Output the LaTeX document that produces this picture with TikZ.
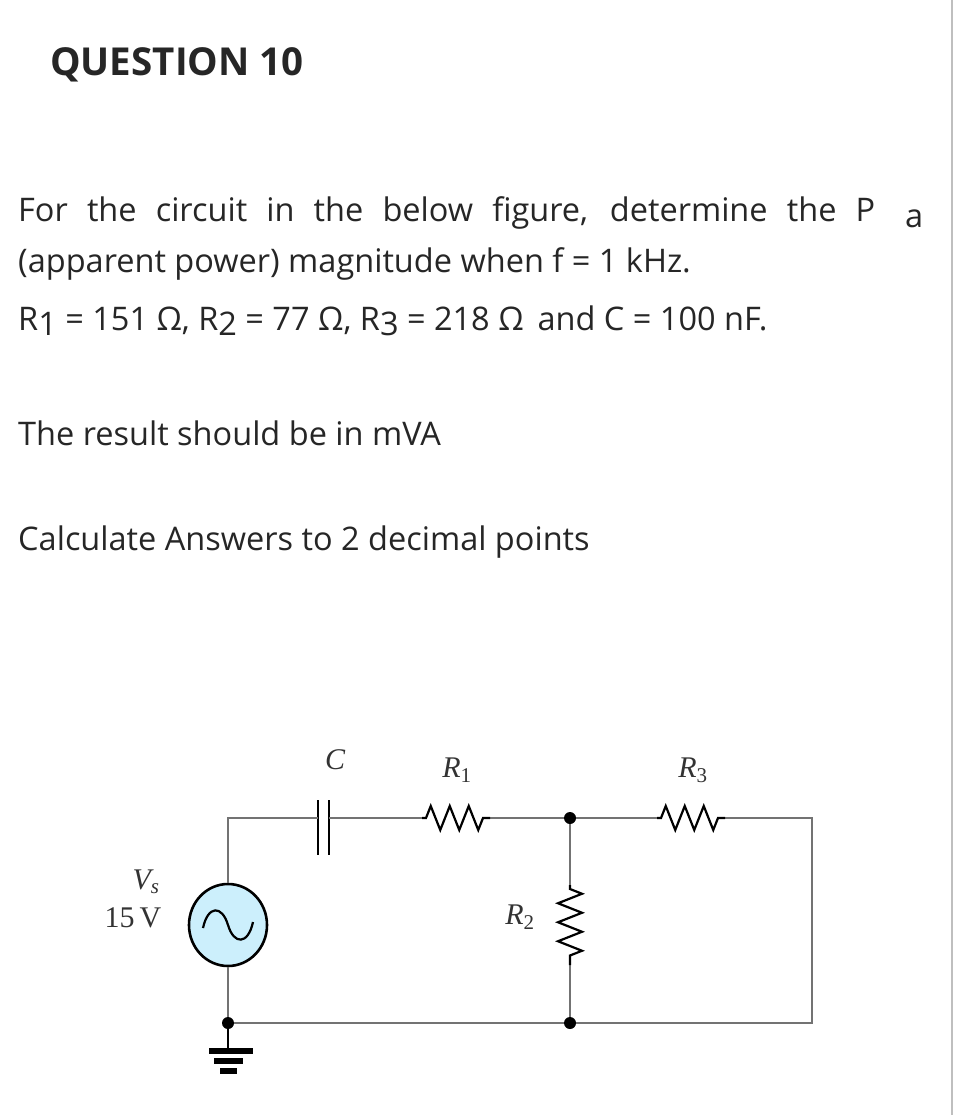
\documentclass[tikz,border=0pt]{standalone}
\usepackage{fontspec}
\setmainfont{Open Sans}
\newfontfamily\cirf{Liberation Serif}
\usetikzlibrary{decorations.pathmorphing,shapes.geometric}
\begin{document}
\begin{tikzpicture}[x=1pt,y=-1pt,
  txt/.style={anchor=base west,inner sep=0pt,font=\fontsize{32.5}{38}\selectfont,text=black!85},
  wire/.style={draw=black!55,line width=1.6pt},
  res/.style={draw=black,line width=2.2pt,decorate,decoration={zigzag,segment length=19pt,amplitude=12pt,pre length=4pt,post length=4pt}},
  lab/.style={inner sep=0pt,font=\cirf\fontsize{30}{34}\selectfont,text=black!80},
  dot/.style={circle,fill=black,inner sep=0pt,minimum size=12pt}]
\useasboundingbox (0,0) rectangle (961,1115);
\fill[white] (0,0) rectangle (961,1115);
\draw[black!25,line width=2pt] (952,0) -- (952,1115);
\node[txt,font=\bfseries\fontsize{38.5}{44}\selectfont] (title) at (50,76) {QUESTION 10};
\node[txt] (l1) at (18,222) {\makebox[857pt][s]{For the circuit in the below figure, determine the P}};
\node[txt] (l1a) at (905,228) {a};
\node[txt] (l2) at (18,272) {(apparent power) magnitude when f = 1 kHz.};
\node[txt] (l3) at (18,330) {R\raisebox{-5pt}{1} = 151 Ω, R\raisebox{-5pt}{2} = 77 Ω, R\raisebox{-5pt}{3} = 218 Ω\, and C = 100 nF.};
\node[txt] (l4) at (18,445) {The result should be in mVA};
\node[txt] (l5) at (18,550) {Calculate Answers to 2 decimal points};
% circuit
\coordinate (tl) at (228,818);
\coordinate (tr) at (812,818);
\coordinate (br) at (812,1023);
\node[dot] (nt) at (570,818) {};
\node[dot] (nb) at (570,1023) {};
\node[dot] (ng) at (228,1023) {};
\node[ellipse,draw=black,line width=2.6pt,fill=cyan!20,minimum width=78pt,minimum height=82pt,inner sep=0pt] (vs) at (228,925) {};
\draw[line width=2.2pt] (203,928) .. controls (208,905) and (222,905) .. (228,925) .. controls (234,945) and (248,945) .. (253,922);
\coordinate (c1) at (318,818); \coordinate (c2) at (329,818);
\draw[line width=2.8pt] (318,800) -- (318,855) (329,800) -- (329,855);
\coordinate (r1a) at (422,818); \coordinate (r1b) at (490,818);
\coordinate (r3a) at (657,818); \coordinate (r3b) at (725,818);
\coordinate (r2a) at (570,885); \coordinate (r2b) at (570,965);
\draw[wire] (vs.north) -- (tl) -- (c1) (c2) -- (r1a) (r1b) -- (nt) -- (r3a) (r3b) -- (tr) -- (br) -- (nb) -- (ng) -- (vs.south);
\draw[wire] (nt) -- (r2a) (r2b) -- (nb);
\draw[res] (r1a) -- (r1b);
\draw[res] (r3a) -- (r3b);
\draw[res] (r2a) -- (r2b);
\coordinate (g0) at (228,1050);
\draw[wire,draw=black] (ng) -- (g0);
\fill (209,1048) rectangle (253,1054);
\fill (214,1058) rectangle (243,1064);
\fill (220,1068) rectangle (237,1074);
\node[lab] (lc) at (335,760) {\itshape C};
\node[lab] (lr1) at (457,770) {\itshape R\textsubscript{\upshape 1}};
\node[lab] (lr3) at (693,770) {\itshape R\textsubscript{\upshape 3}};
\node[lab] (lr2) at (520,917) {\itshape R\textsubscript{\upshape 2}};
\node[lab] (lvs) at (146,882) {\itshape V\textsubscript{s}};
\node[lab] (lv) at (133,918) {15\,V};
\end{tikzpicture}
\end{document}
